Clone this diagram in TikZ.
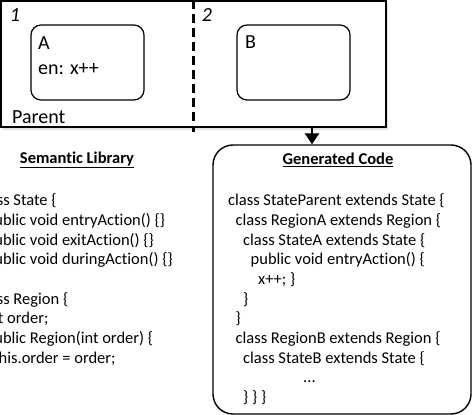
\documentclass[tikz,border=0pt]{standalone}
\usepackage{fontspec}
\setmainfont{Carlito}[Ligatures=NoCommon]
\usetikzlibrary{arrows.meta,shadows,calc}

\newlength\codestep
\setlength\codestep{7.5pt}
\newcommand{\ci}[1]{\hspace*{#1\codestep}}

\tikzset{
  region/.style={draw, line width=1.2pt, rounded corners=10pt},
  code/.style={anchor=north west, inner sep=0pt, align=left, font=\fontsize{16.5}{19.7}\selectfont},
  title/.style={inner sep=0pt, font=\fontsize{16.5}{19.7}\selectfont\bfseries},
  label/.style={anchor=west, inner sep=0pt, font=\fontsize{20}{24}\selectfont},
}

\begin{document}
\begin{tikzpicture}[x=1pt, y=-1pt]
  \clip (0,0) rectangle (474,415);
  \fill[white] (0,0) rectangle (474,415);
  % the parent state with its two regions
  \path[draw, fill=white, line width=1.8pt, drop shadow={shadow xshift=1.5pt, shadow yshift=-3pt, opacity=0.22}] (1,1) rectangle (386,127);
  \node (parent) [inner sep=0pt, minimum width=385pt, minimum height=126pt] at (193.5,64) {};
  \draw[line width=2.6pt, dash pattern=on 9pt off 5pt] (parent.north) ++(0,-1) coordinate (split) -- ($(parent.south)+(0,5)$);
  \node (n1) [font=\fontsize{20}{24}\selectfont\itshape, inner sep=0pt] at (15,15) {1};
  \node (n2) [font=\fontsize{20}{24}\selectfont\itshape, inner sep=0pt] at (207,15) {2};
  \node (stA) [region, minimum width=113pt, minimum height=75pt] at (87.5,62.5) {};
  \node (stB) [region, minimum width=113pt, minimum height=75pt] at (293.5,62.5) {};
  \node (lA) [label] at (38,43) {A};
  \node (enA) [label] at (38,69) {en: x++};
  \node (lB) [label] at (245,42) {B};
  \node (lP) [label] at (12,117) {Parent};
  % generated code box
  \node (gen) [draw, line width=1.4pt, rounded corners=20pt, minimum width=258pt, minimum height=269pt, inner sep=0pt] at (342,279.5) {};
  \coordinate (tap) at (312,0);
  \draw[line width=2.8pt, -{Triangle[width=14pt,length=11pt]}] (parent.south -| tap) -- (gen.north -| tap);
  \node (gtitle) [title] at (338,160) {\underline{Generated Code}};
  \node (stitle) [title] at (77,160) {\underline{Semantic Library}};
  % the code texts
  \node (lib) [code] at (-22,193.5) {%
    class State \{\\
    \ci{1}public void entryAction() \{\}\\
    \ci{1}public void exitAction() \{\}\\
    \ci{1}public void duringAction() \{\}\\[19.7pt]
    class Region \{\\
    \ci{1}int order;\\
    \ci{1}public Region(int order) \{\\
    \ci{2}this.order = order;};
  \node (gcode) [code] at (228,193.5) {%
    class StateParent extends State \{\\
    \ci{1}class RegionA extends Region \{\\
    \ci{2}class StateA extends State \{\\
    \ci{3}public void entryAction() \{\\
    \ci{4}x++; \}\\
    \ci{2}\}\\
    \ci{1}\}\\
    \ci{1}class RegionB extends Region \{\\
    \ci{2}class StateB extends State \{\\
    \ci{10}...\\
    \ci{2}\} \} \}};
\end{tikzpicture}
\end{document}
